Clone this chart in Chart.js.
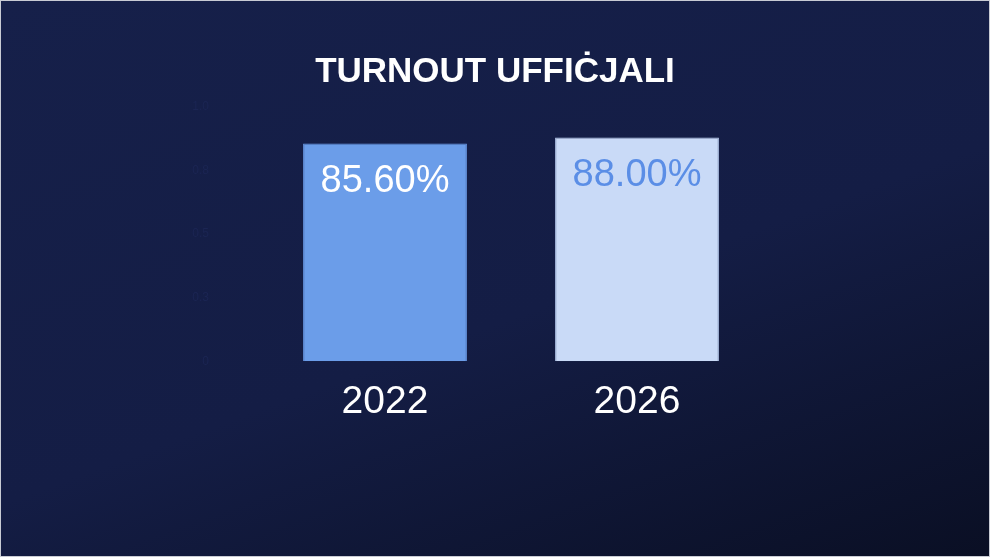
<!DOCTYPE html>
<html>
<head>
<meta charset="utf-8">
<script src="https://cdn.jsdelivr.net/npm/chart.js@4/dist/chart.umd.min.js"></script>
<style>
    html, body { margin: 0; padding: 0; }
    #wrap {
        width: 988px;
        height: 555px;
        border: 1px solid #c8cbd4;
        background: linear-gradient(160deg, #16204a 0%, #141d45 55%, #0a0f24 100%);
    }
</style>
</head>
<body>
<div id="wrap"><canvas id="chart" width="988" height="555"></canvas></div>
<script>
// Dữ liệu biểu đồ
const chartTitle = 'TURNOUT UFFIĊJALI';
const years = ['2022', '2026'];
const turnout = [0.856, 0.88];
const valueLabels = ['85.60%', '88.00%'];
const yTicks = [0, 0.25, 0.5, 0.75, 1];
const barColors = ['#6b9de9', '#c9daf7'];
const labelColors = ['#ffffff', '#5b8ee6'];

const FONT = "'Liberation Sans', Arial, sans-serif";

// Plugin vẽ tiêu đề ở giữa canvas
const titlePlugin = {
    id: 'centerTitle',
    afterDraw(chart) {
        const ctx = chart.ctx;
        ctx.save();
        ctx.font = `bold 35px ${FONT}`;
        ctx.fillStyle = '#ffffff';
        ctx.textAlign = 'center';
        ctx.textBaseline = 'middle';
        ctx.fillText(chartTitle, chart.width / 2, 71);
        ctx.restore();
    }
};

// Plugin vẽ nhãn giá trị bên trong cột
const valueLabelPlugin = {
    id: 'valueLabels',
    afterDatasetsDraw(chart) {
        const ctx = chart.ctx;
        const meta = chart.getDatasetMeta(0);
        ctx.save();
        ctx.font = `38px ${FONT}`;
        ctx.textAlign = 'center';
        ctx.textBaseline = 'middle';
        meta.data.forEach((bar, i) => {
            ctx.fillStyle = labelColors[i];
            ctx.fillText(valueLabels[i], bar.x, bar.y + 38);
        });
        ctx.restore();
    }
};

const ctx = document.getElementById('chart').getContext('2d');
new Chart(ctx, {
    type: 'bar',
    data: {
        labels: years,
        datasets: [{
            data: turnout,
            backgroundColor: barColors,
            borderColor: ['#6b9de9', '#b9cdf0'],
            borderWidth: 1,
            barPercentage: 0.65,
            categoryPercentage: 1
        }]
    },
    options: {
        responsive: false,
        animation: false,
        layout: {
            padding: { left: 178, right: 226, bottom: 112, top: 106 }
        },
        plugins: {
            legend: { display: false },
            tooltip: { enabled: false },
            title: { display: false }
        },
        scales: {
            x: {
                grid: { display: false, drawTicks: false },
                border: { display: false },
                ticks: {
                    color: '#ffffff',
                    font: { family: FONT, size: 39 },
                    padding: 18
                }
            },
            y: {
                min: yTicks[0],
                max: yTicks[yTicks.length - 1],
                afterFit: (scale) => { scale.width = 80; },
                afterBuildTicks: (scale) => {
                    scale.ticks = yTicks.map(v => ({ value: v }));
                },
                grid: { display: false, drawTicks: false },
                border: { display: false },
                ticks: {
                    color: '#1b2553',
                    font: { family: FONT, size: 12 },
                    padding: 50
                }
            }
        }
    },
    plugins: [valueLabelPlugin, titlePlugin]
});
</script>
</body>
</html>
